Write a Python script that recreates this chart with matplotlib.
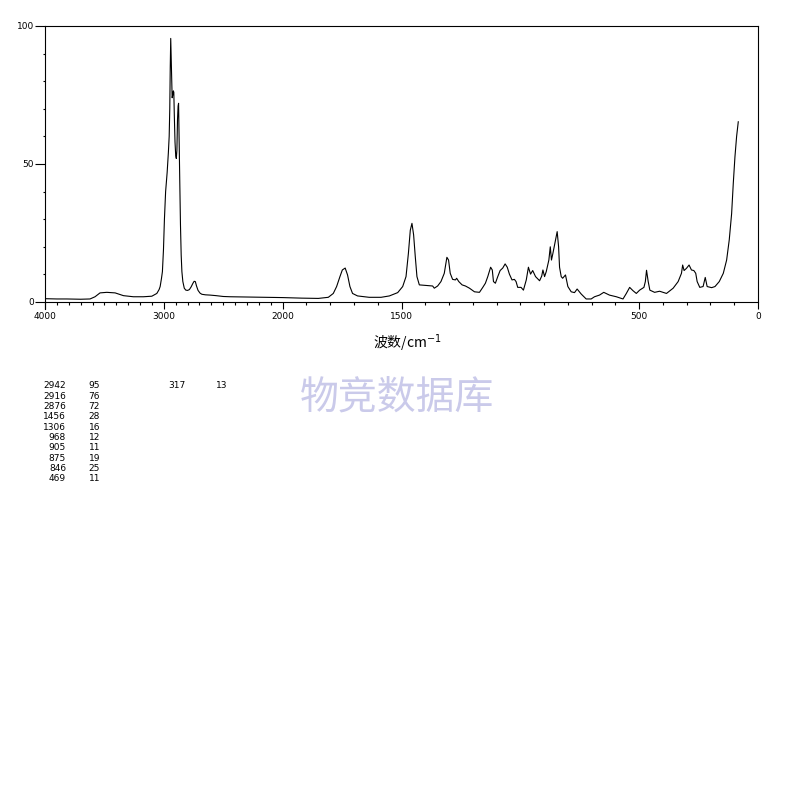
import matplotlib
matplotlib.use('Agg')

import matplotlib.pyplot as plt
import numpy as np
from matplotlib.ticker import FixedLocator, NullFormatter

# Raman spectrum (wavenumber cm-1, intensity)
wavenumber = [
    4000, 3900, 3817, 3700, 3621, 3579, 3537, 3480, 3410, 3340, 3256, 3172, 3101,
    3059, 3040, 3031, 3020, 3012, 3003, 2995, 2985, 2972, 2962, 2955, 2950, 2946,
    2942, 2938, 2934, 2930, 2925, 2920, 2916, 2912, 2906, 2900, 2895, 2890, 2885,
    2880, 2876, 2872, 2866, 2860, 2854, 2848, 2840, 2828, 2815, 2800, 2785, 2770,
    2755, 2745, 2735, 2725, 2712, 2695, 2680, 2650, 2610, 2560, 2500, 2441, 2300,
    2150, 2000, 1920, 1850, 1808, 1787, 1773, 1759, 1749, 1737, 1727, 1717, 1706,
    1685, 1636, 1586, 1551, 1516, 1495, 1481, 1471, 1463, 1456, 1449, 1442, 1435,
    1425, 1397, 1369, 1362, 1348, 1334, 1320, 1309, 1302, 1295, 1285, 1273, 1268,
    1259, 1245, 1231, 1214, 1193, 1172, 1158, 1147, 1137, 1125, 1118, 1113, 1105,
    1095, 1085, 1074, 1064, 1055, 1046, 1035, 1025, 1018, 1011, 997, 987, 975,
    966, 957, 948, 936, 919, 910, 905, 898, 891, 880, 874, 869, 863, 853, 845,
    839, 835, 828, 822, 810, 800, 786, 772, 761, 744, 723, 702, 688, 667, 649,
    625, 596, 568, 554, 540, 526, 512, 498, 480, 474, 469, 462, 455, 435, 414,
    385, 357, 336, 322, 317, 311, 301, 290, 280, 270, 262, 256, 245, 231, 222,
    214, 195, 181, 163, 146, 132, 121, 111, 104, 97, 90, 83,
]
intensity = [
    1.2, 1.1, 1.1, 1.0, 1.1, 1.9, 3.3, 3.5, 3.3, 2.3, 1.9, 1.9, 2.1,
    3.1, 4.5, 5.6, 8.5, 11, 19, 30, 40, 47, 54, 60, 70, 85,
    95.5, 88, 80, 74, 75, 76.5, 76, 68, 58, 53, 52, 55, 66,
    71, 72, 60, 44, 28, 17, 11, 7.4, 5.0, 4.3, 4.2, 4.5, 5.5,
    6.8, 7.5, 7.4, 5.8, 4.2, 3.2, 2.8, 2.6, 2.5, 2.3, 2.0, 1.9, 1.8,
    1.7, 1.6, 1.4, 1.3, 1.7, 3.1, 5.6, 9.2, 11.6, 12.3, 9.8, 5.6, 3.1,
    2.2, 1.7, 1.7, 2.2, 3.4, 5.6, 9.2, 17.6, 26, 28.5, 24.3, 16.4, 9.2,
    6.2, 6.0, 5.8, 5.0, 5.8, 7.4, 10.4, 16.2, 15.2, 10.4, 8.2, 8.0, 8.6,
    7.4, 6.2, 5.8, 5.0, 3.7, 3.5, 5.3, 6.8, 9.2, 12.6, 11.6, 7.4, 6.8,
    9.2, 11.4, 12.3, 13.8, 12.6, 10.1, 8.0, 8.2, 7.4, 5.3, 5.3, 4.3, 8.0,
    12.6, 10.1, 11.4, 9.2, 7.7, 9.4, 11.6, 9.2, 11.0, 15.2, 20.0, 15.2, 17.6, 21.9, 25.5,
    20.0, 12.6, 9.2, 8.6, 9.8, 5.6, 3.7, 3.4, 4.7, 2.9, 1.1, 1.1, 1.9, 2.5, 3.5,
    2.5, 1.9, 1.1, 3.1, 5.3, 4.1, 3.1, 4.3, 5.3, 7.4, 11.5, 7.4, 4.3, 3.5, 3.9,
    3.1, 5.0, 7.4, 10.4, 13.4, 11.4, 12.2, 13.4, 11.6, 11.4, 10.4, 7.4, 5.3, 5.6, 8.9,
    5.6, 5.2, 5.6, 7.4, 10.4, 15.2, 22.5, 32, 43, 52.6, 60, 65.3,
]

# peak list printed under the chart
peak_wn = [2942, 2916, 2876, 1456, 1306, 968, 905, 875, 846, 469, 317]
peak_int = [95, 76, 72, 28, 16, 12, 11, 19, 25, 11, 13]

x_major = [4000, 3000, 2000, 1500, 500, 0]
y_major = [0, 50, 100]

CJK = ['Noto Sans CJK SC', 'DejaVu Sans']
W = H = 794


def fwd(x):
    # above 2000 cm-1 the axis is compressed by half
    x = np.asarray(x, dtype=float)
    return np.where(x > 2000, 2000 + (x - 2000) / 2, x)


def inv(u):
    u = np.asarray(u, dtype=float)
    return np.where(u > 2000, 2000 + (u - 2000) * 2, u)


plt.rcParams['font.family'] = ['DejaVu Sans']
fig = plt.figure(figsize=(W / 100, H / 100), dpi=100, facecolor='white')
ax = fig.add_axes([45 / W, 1 - 302 / H, 713 / W, 276 / H])

ax.plot(wavenumber, intensity, color='black', lw=0.8)

ax.set_xscale('function', functions=(fwd, inv))
ax.set_xlim(4000, 0)
ax.set_ylim(0, 100)

ax.xaxis.set_major_locator(FixedLocator(x_major))
ax.xaxis.set_minor_locator(FixedLocator(list(range(0, 4001, 100))))
ax.xaxis.set_minor_formatter(NullFormatter())
ax.set_xticklabels([str(v) for v in x_major])
ax.yaxis.set_major_locator(FixedLocator(y_major))
ax.yaxis.set_minor_locator(FixedLocator(list(range(0, 101, 10))))
ax.yaxis.set_minor_formatter(NullFormatter())
ax.set_yticklabels([str(v) for v in y_major])

ax.tick_params(axis='x', which='major', direction='out', length=5, width=0.8,
               labelsize=6.5, pad=2)
ax.tick_params(axis='x', which='minor', direction='out', length=2.5, width=0.8)
ax.tick_params(axis='y', which='major', direction='out', length=7, width=0.8,
               labelsize=6.5, pad=1)
ax.tick_params(axis='y', which='minor', direction='out', length=1.5, width=0.8)
for s in ax.spines.values():
    s.set_linewidth(0.8)
# left axis runs a little below zero
ax.plot([0, 0], [0, -0.025], transform=ax.transAxes, clip_on=False,
        color='black', lw=0.8)

fig.text(407 / W, 1 - 343 / H, '波数/cm$^{-1}$', family=CJK, fontsize=10,
         ha='center', va='center')

# watermark
fig.text(397 / W, 1 - 398 / H, '物竞数据库', family=CJK, fontsize=28,
         color='#cacaea', ha='center', va='center')

# peak table
row0, dy = 386, 10.3
for i, (w, v) in enumerate(zip(peak_wn[:10], peak_int[:10])):
    y = 1 - (row0 + i * dy) / H
    fig.text(66 / W, y, str(w), fontsize=6.5, ha='right', va='center')
    fig.text(100 / W, y, str(v), fontsize=6.5, ha='right', va='center')
for j, (w, v) in enumerate(zip(peak_wn[10:], peak_int[10:])):
    y = 1 - (row0 + j * dy) / H
    fig.text(186 / W, y, str(w), fontsize=6.5, ha='right', va='center')
    fig.text(227 / W, y, str(v), fontsize=6.5, ha='right', va='center')

fig.savefig('out.png', dpi=100, facecolor='white')
